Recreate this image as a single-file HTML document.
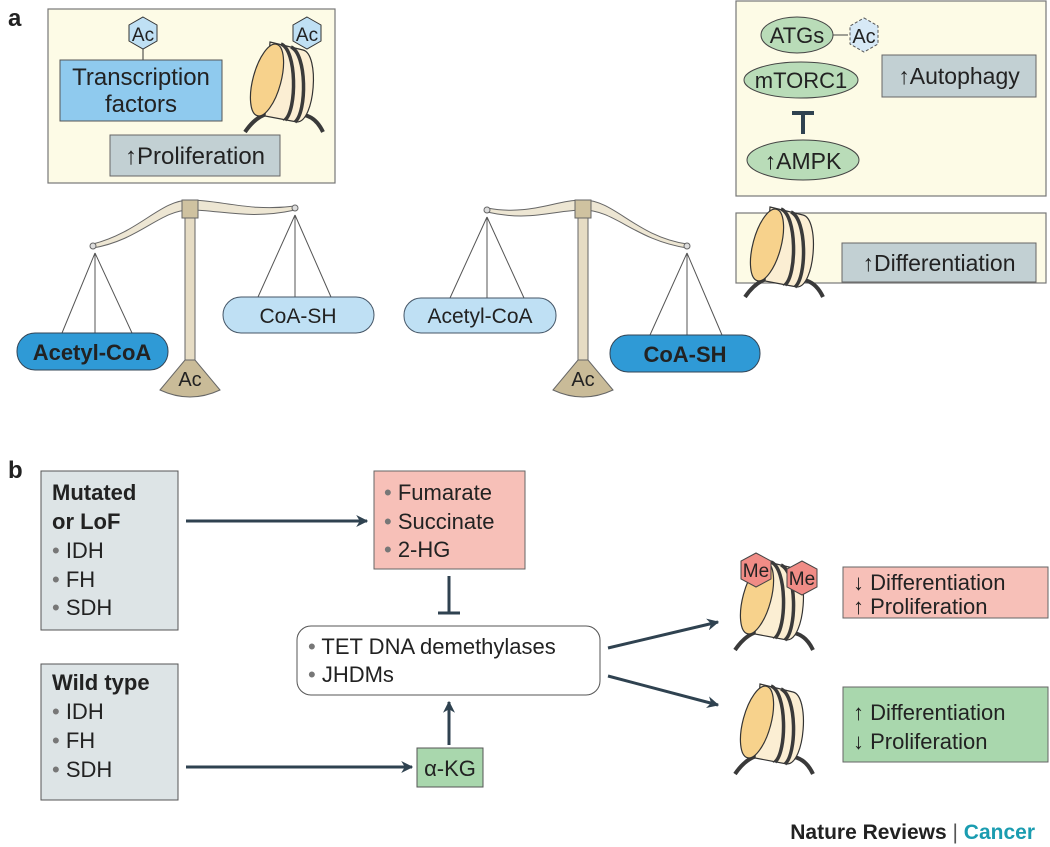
<!DOCTYPE html>
<html><head><meta charset="utf-8"><style>
body{margin:0;background:#fff}
svg{display:block}
text{font-family:"Liberation Sans",sans-serif;fill:#222}
</style></head><body>
<svg width="1050" height="847" viewBox="0 0 1050 847" xmlns="http://www.w3.org/2000/svg">
<defs>
<marker id="ar" viewBox="0 0 10 10" refX="9" refY="5" markerWidth="4" markerHeight="4" orient="auto"><path d="M0,0 L10,5 L0,10 L3,5z" fill="#2f4250"/></marker>
<g id="nuc">
<path d="M-40,52 C-25,30 -5,28 0,40" stroke="#3a3a3a" stroke-width="4" fill="none"/>
<path d="M5,40 C15,30 30,35 38,52" stroke="#3a3a3a" stroke-width="4" fill="none"/>
<path d="M-15,-38 L18,-30 C35,-26 30,42 12,42 L-20,36 Z" fill="#fbeed3" stroke="#333" stroke-width="1.2"/>
<ellipse cx="-18" cy="0" rx="14" ry="37" transform="rotate(15 -18 0)" fill="#f7d28c" stroke="#333" stroke-width="1.2"/>
<path d="M-4,-36 C12,-30 12,30 0,40" stroke="#3a3a3a" stroke-width="3.5" fill="none"/>
<path d="M6,-33 C22,-26 22,32 10,42" stroke="#3a3a3a" stroke-width="3.5" fill="none"/>
</g>
</defs>
<!-- panel a -->
<text x="8" y="26" font-size="24" font-weight="bold">a</text>
<rect x="48" y="9" width="287" height="174" fill="#fdfbe6" stroke="#777" stroke-width="1.2"/>
<line x1="143" y1="49" x2="143" y2="60" stroke="#333"/>
<polygon points="143,17 157,25 157,41 143,49 129,41 129,25" fill="#bfe0f4" stroke="#333"/>
<text x="143" y="41" font-size="19" text-anchor="middle">Ac</text>
<rect x="60" y="60" width="162" height="61" fill="#8fcaee" stroke="#555"/>
<text x="141" y="85" font-size="24" text-anchor="middle">Transcription</text>
<text x="141" y="112" font-size="24" text-anchor="middle">factors</text>
<use href="#nuc" x="285" y="80"/>
<polygon points="307,17 321,25 321,41 307,49 293,41 293,25" fill="#bfe0f4" stroke="#333"/>
<text x="307" y="41" font-size="19" text-anchor="middle">Ac</text>
<rect x="110" y="135" width="170" height="41" fill="#c2d0d3" stroke="#666"/>
<text x="195" y="164" font-size="24" text-anchor="middle">↑Proliferation</text>

<!-- left scale -->
<path d="M93,244 C140,232 160,200 190,200 C220,200 250,212 295,206 L295,210 C250,220 220,210 190,210 C160,210 140,240 93,248Z" fill="#ede6d3" stroke="#666"/>
<rect x="185" y="210" width="10" height="150" fill="#e6dcc4" stroke="#666"/>
<rect x="182" y="200" width="16" height="18" fill="#cfc2a0" stroke="#666"/>
<path d="M160,390 L185,360 L195,360 L220,390 Q190,404 160,390Z" fill="#c9bb98" stroke="#666"/>
<text x="190" y="386" font-size="20" text-anchor="middle">Ac</text>
<circle cx="93" cy="246" r="3" fill="#ddd" stroke="#666"/><circle cx="295" cy="208" r="3" fill="#ddd" stroke="#666"/>
<path d="M95,253 L62,333 M95,253 L95,333 M95,253 L132,333 M295,215 L258,297 M295,215 L295,297 M295,215 L331,297" stroke="#555" stroke-width="1"/>
<rect x="17" y="333" width="151" height="37" rx="18" fill="#2f9ad6" stroke="#345"/>
<text x="92" y="360" font-size="22" font-weight="bold" text-anchor="middle">Acetyl-CoA</text>
<rect x="223" y="297" width="151" height="36" rx="18" fill="#bfe0f4" stroke="#456"/>
<text x="298" y="323" font-size="21" text-anchor="middle">CoA-SH</text>

<!-- right scale -->
<path d="M487,208 C530,216 555,200 583,200 C615,200 635,236 687,244 L687,248 C635,240 615,210 583,210 C555,210 530,222 487,212Z" fill="#ede6d3" stroke="#666"/>
<rect x="578" y="210" width="10" height="150" fill="#e6dcc4" stroke="#666"/>
<rect x="575" y="200" width="16" height="18" fill="#cfc2a0" stroke="#666"/>
<path d="M553,390 L578,360 L588,360 L613,390 Q583,404 553,390Z" fill="#c9bb98" stroke="#666"/>
<text x="583" y="386" font-size="20" text-anchor="middle">Ac</text>
<circle cx="487" cy="210" r="3" fill="#ddd" stroke="#666"/><circle cx="687" cy="246" r="3" fill="#ddd" stroke="#666"/>
<path d="M487,217 L450,298 M487,217 L487,298 M487,217 L524,298 M687,253 L650,335 M687,253 L687,335 M687,253 L722,335" stroke="#555" stroke-width="1"/>
<rect x="404" y="298" width="152" height="35" rx="17" fill="#bfe0f4" stroke="#456"/>
<text x="480" y="323" font-size="21" text-anchor="middle">Acetyl-CoA</text>
<rect x="610" y="335" width="150" height="37" rx="18" fill="#2f9ad6" stroke="#345"/>
<text x="685" y="362" font-size="22" font-weight="bold" text-anchor="middle">CoA-SH</text>

<!-- right panels -->
<rect x="736" y="1" width="310" height="195" fill="#fdfbe6" stroke="#777" stroke-width="1.2"/>
<ellipse cx="797" cy="35" rx="36" ry="18" fill="#b9dcb8" stroke="#444"/>
<text x="797" y="43" font-size="22" text-anchor="middle">ATGs</text>
<line x1="833" y1="35" x2="848" y2="35" stroke="#444"/>
<polygon points="864,18 878,26 878,44 864,52 850,44 850,26" fill="#d7e9f6" stroke="#555" stroke-dasharray="3,2"/>
<text x="864" y="43" font-size="20" text-anchor="middle" fill="#6a8a9c">Ac</text>
<ellipse cx="801" cy="80" rx="57" ry="18" fill="#b9dcb8" stroke="#444"/>
<text x="801" y="88" font-size="22" text-anchor="middle">mTORC1</text>
<path d="M803,134 L803,114 M792,113 L814,113" stroke="#2f4250" stroke-width="4"/>
<ellipse cx="803" cy="160" rx="56" ry="20" fill="#b9dcb8" stroke="#444"/>
<text x="803" y="169" font-size="23" text-anchor="middle">↑AMPK</text>
<rect x="882" y="55" width="154" height="42" fill="#c2d0d3" stroke="#666"/>
<text x="959" y="84" font-size="23" text-anchor="middle">↑Autophagy</text>

<rect x="736" y="213" width="310" height="70" fill="#fdfbe6" stroke="#777" stroke-width="1.2"/>
<use href="#nuc" x="785" y="245"/>
<rect x="842" y="243" width="194" height="39" fill="#c2d0d3" stroke="#666"/>
<text x="939" y="271" font-size="23" text-anchor="middle">↑Differentiation</text>

<!-- panel b -->
<text x="8" y="478" font-size="24" font-weight="bold">b</text>
<rect x="41" y="471" width="137" height="159" fill="#dde4e6" stroke="#555"/>
<text x="52" y="500" font-size="22" font-weight="bold">Mutated</text>
<text x="52" y="529" font-size="22" font-weight="bold">or LoF</text>
<text x="52" y="558" font-size="22"><tspan fill="#777">•</tspan> IDH</text>
<text x="52" y="587" font-size="22"><tspan fill="#777">•</tspan> FH</text>
<text x="52" y="615" font-size="22"><tspan fill="#777">•</tspan> SDH</text>
<rect x="41" y="664" width="137" height="136" fill="#dde4e6" stroke="#555"/>
<text x="52" y="690" font-size="22" font-weight="bold">Wild type</text>
<text x="52" y="719" font-size="22"><tspan fill="#777">•</tspan> IDH</text>
<text x="52" y="748" font-size="22"><tspan fill="#777">•</tspan> FH</text>
<text x="52" y="777" font-size="22"><tspan fill="#777">•</tspan> SDH</text>

<line x1="186" y1="521" x2="367" y2="521" stroke="#2f4250" stroke-width="3" marker-end="url(#ar)"/>
<line x1="186" y1="767" x2="412" y2="767" stroke="#2f4250" stroke-width="3" marker-end="url(#ar)"/>
<rect x="374" y="471" width="151" height="98" fill="#f7c0b8" stroke="#666"/>
<text x="384" y="500" font-size="22"><tspan fill="#777">•</tspan> Fumarate</text>
<text x="384" y="529" font-size="22"><tspan fill="#777">•</tspan> Succinate</text>
<text x="384" y="557" font-size="22"><tspan fill="#777">•</tspan> 2-HG</text>
<path d="M449,576 L449,613 M438,613 L460,613" stroke="#2f4250" stroke-width="3"/>
<rect x="297" y="626" width="303" height="69" rx="14" fill="#fff" stroke="#555"/>
<text x="308" y="654" font-size="22"><tspan fill="#777">•</tspan> TET DNA demethylases</text>
<text x="308" y="682" font-size="22"><tspan fill="#777">•</tspan> JHDMs</text>
<line x1="449" y1="745" x2="449" y2="702" stroke="#2f4250" stroke-width="3" marker-end="url(#ar)"/>
<rect x="417" y="748" width="66" height="39" fill="#a9d7ad" stroke="#555"/>
<text x="450" y="776" font-size="22" text-anchor="middle">α-KG</text>

<line x1="608" y1="648" x2="718" y2="622" stroke="#2f4250" stroke-width="3" marker-end="url(#ar)"/>
<line x1="608" y1="676" x2="718" y2="705" stroke="#2f4250" stroke-width="3" marker-end="url(#ar)"/>
<use href="#nuc" x="775" y="598"/>
<polygon points="756,553 771,561 771,579 756,587 741,579 741,561" fill="#f08c86" stroke="#444"/>
<text x="756" y="577" font-size="19" text-anchor="middle">Me</text>
<polygon points="802,561 817,569 817,587 802,595 787,587 787,569" fill="#f08c86" stroke="#444"/>
<text x="802" y="585" font-size="19" text-anchor="middle">Me</text>
<use href="#nuc" x="775" y="722"/>
<rect x="843" y="567" width="205" height="51" fill="#f7c0b8" stroke="#666"/>
<text x="853" y="590" font-size="22">↓ Differentiation</text>
<text x="853" y="614" font-size="22">↑ Proliferation</text>
<rect x="843" y="687" width="205" height="75" fill="#a9d7ad" stroke="#666"/>
<text x="853" y="720" font-size="22">↑ Differentiation</text>
<text x="853" y="749" font-size="22">↓ Proliferation</text>

<text x="1035" y="839" font-size="21" font-weight="bold" text-anchor="end">Nature Reviews <tspan font-weight="normal" fill="#555">|</tspan> <tspan fill="#1a9cb0">Cancer</tspan></text>
</svg>
</body></html>
